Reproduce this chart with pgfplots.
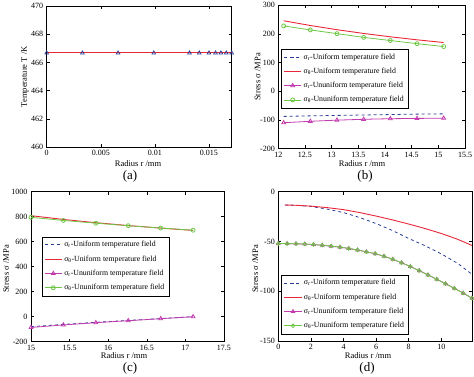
\documentclass[border=0pt]{standalone}
\usepackage{fontspec}
\setmainfont{Liberation Serif}
\usepackage{pgfplots}
\pgfplotsset{compat=1.18}
\definecolor{cred}{RGB}{232,40,56}
\definecolor{cblue}{RGB}{40,60,150}
\definecolor{cmag}{RGB}{195,60,175}
\definecolor{cgreen}{RGB}{110,200,70}
\pgfplotsset{
 every axis/.append style={
  scale only axis, anchor=south west,
  axis line style={line width=0.7pt},
  tick style={black, line width=0.5pt}, major tick length=3pt,
  ticklabel style={font=\fontsize{8}{9}\selectfont},
  /pgf/number format/assume math mode=true,
  /pgf/number format/1000 sep={},
  scaled ticks=false,
  legend cell align=left,
  legend style={font=\fontsize{7.8}{9}\selectfont, draw=black, row sep=3.3pt, inner sep=2.5pt},
 },
}
\tikzset{lab/.style={font=\fontsize{8.5}{10}\selectfont}, captxt/.style={font=\fontsize{13}{15}\selectfont}}
\begin{document}
\begin{tikzpicture}
\path[use as bounding box] (0,0) rectangle (474pt,377pt);
% (a)
\begin{axis}[at={(46.7pt,230pt)}, width=185pt, height=141pt,
  xmin=0, xmax=0.0171, ymin=460, ymax=470,
  xtick={0,0.005,0.01,0.015}, xticklabels={0,0.005,0.01,0.015},
  ytick={460,462,...,470}]
\addplot[only marks, mark=triangle, mark size=2.2pt, cblue, mark options={line width=0.6pt}] coordinates {
(0,466.67)(0.0033,466.67)(0.0066,466.67)(0.0099,466.67)(0.0132,466.67)(0.0141,466.67)(0.0150,466.67)(0.0156,466.67)(0.0161,466.67)(0.0166,466.67)(0.0171,466.67)};
\addplot[cred, line width=0.9pt] coordinates {(0,466.67)(0.0171,466.67)};
\end{axis}
% (b)
\begin{axis}[at={(278.3pt,228.5pt)}, width=186.7pt, height=143.2pt,
  xmin=12, xmax=15.5, ymin=-200, ymax=300,
  xtick={12,12.5,...,15.5}, ytick={-200,-100,...,300},
  legend style={at={(0.0145,0.696)}, anchor=north west}]
\addplot[cblue, dashed, line width=0.8pt] coordinates {(12.1,-88)(12.6,-86)(13.1,-84.5)(13.6,-83)(14.1,-81.5)(14.6,-80)(15.1,-79)};
\addplot[cred, line width=0.9pt] coordinates {(12.1,246)(12.6,229.5)(13.1,214.8)(13.6,201.7)(14.1,190)(14.6,179.5)(15.1,170)};
\addplot[cmag, line width=0.8pt, mark=triangle, mark size=2.2pt] coordinates {(12.1,-110)(12.6,-105)(13.1,-101)(13.6,-98)(14.1,-96)(14.6,-95)(15.1,-94)};
\addplot[cgreen, line width=0.8pt, mark=o, mark size=2pt] coordinates {(12.1,228)(12.6,214)(13.1,201)(13.6,188)(14.1,177)(14.6,166)(15.1,156)};
\legend{σ\textsubscript{r}-Uniform temperature field, σ\textsubscript{θ}-Uniform temperature field, σ\textsubscript{r}-Ununiform temperature field, σ\textsubscript{θ}-Ununiform temperature field}
\end{axis}
% (c)
\begin{axis}[at={(31pt,35.3pt)}, width=193pt, height=150pt,
  xmin=15, xmax=17.5, ymin=-200, ymax=1000,
  xtick={15,15.5,...,17.5}, ytick={-200,0,...,1000},
  legend style={at={(0.055,0.70)}, anchor=north west}]
\addplot[cblue, dashed, line width=0.8pt] coordinates {(15,-80)(15.42,-62)(15.84,-45)(16.26,-30)(16.68,-15)(17.1,0)};
\addplot[cred, line width=0.9pt] coordinates {(15,808)(15.42,778)(15.84,752)(16.26,729)(16.68,709)(17.1,690)};
\addplot[cmag, line width=0.8pt, mark=triangle, mark size=2.2pt] coordinates {(15,-86)(15.42,-66)(15.84,-48)(16.26,-32)(16.68,-16)(17.1,0)};
\addplot[cgreen, line width=0.8pt, mark=o, mark size=2pt] coordinates {(15,795)(15.42,770)(15.84,748)(16.26,728)(16.68,709)(17.1,692)};
\legend{σ\textsubscript{r}-Uniform temperature field, σ\textsubscript{θ}-Uniform temperature field, σ\textsubscript{r}-Ununiform temperature field, σ\textsubscript{θ}-Ununiform temperature field}
\end{axis}
% (d)
\begin{axis}[at={(278.3pt,36pt)}, width=193.7pt, height=149.3pt,
  xmin=0, xmax=11.88, ymin=-150, ymax=0,
  xtick={0,2,...,10}, ytick={-150,-100,...,0},
  legend style={at={(0.0155,0.047)}, anchor=south west}]
\addplot[cblue, dashed, line width=0.8pt] coordinates {(0.4,-13.4)(1,-13.6)(2,-14.8)(3,-17.5)(4,-21)(5,-26)(6,-32)(7,-39)(8,-47)(9,-54.3)(10,-62.5)(11,-72)(11.88,-83)};
\addplot[cred, line width=0.9pt] coordinates {(0.4,-13.4)(1,-13.6)(2,-14.5)(3,-16)(4,-18)(5,-21)(6,-24.5)(7,-28.3)(8,-32.5)(9,-37)(10,-42)(11,-47.8)(11.88,-54)};
\addplot[cmag, line width=0.8pt, mark=triangle, mark size=2pt] coordinates {
(0,-52)(0.54,-52.1)(1.08,-52.3)(1.62,-52.6)(2.16,-53.1)(2.70,-53.8)(3.24,-54.7)(3.78,-55.7)(4.32,-57)(4.86,-58.6)(5.40,-60.4)(5.94,-62.3)(6.48,-64.8)(7.02,-67.9)(7.56,-71.4)(8.10,-75.2)(8.64,-79.3)(9.18,-83.6)(9.72,-88)(10.26,-92.5)(10.80,-97.1)(11.34,-101.9)(11.88,-107)};
\addplot[cgreen, line width=0.8pt, mark=o, mark size=1.8pt] coordinates {
(0,-52)(0.54,-52.1)(1.08,-52.3)(1.62,-52.6)(2.16,-53.1)(2.70,-53.8)(3.24,-54.7)(3.78,-55.7)(4.32,-57)(4.86,-58.6)(5.40,-60.4)(5.94,-62.3)(6.48,-64.8)(7.02,-67.9)(7.56,-71.4)(8.10,-75.2)(8.64,-79.3)(9.18,-83.6)(9.72,-88)(10.26,-92.5)(10.80,-97.1)(11.34,-101.9)(11.88,-107)};
\legend{σ\textsubscript{r}-Uniform temperature field, σ\textsubscript{θ}-Uniform temperature field, σ\textsubscript{r}-Ununiform temperature field, σ\textsubscript{θ}-Ununiform temperature field}
\end{axis}
% labels
\node[lab, rotate=90] at (25pt,300.3pt) {Temperature T /K};
\node[lab] at (138pt,213.7pt) {Radius r /mm};
\node[captxt] at (130pt,200.3pt) {(a)};
\node[lab, rotate=90] at (257.7pt,300pt) {Stress σ /MPa};
\node[lab] at (362pt,213.5pt) {Radius r /mm};
\node[captxt] at (365pt,200.3pt) {(b)};
\node[lab, rotate=90] at (6pt,108pt) {Stress σ /MPa};
\node[lab] at (124pt,21pt) {Radius r /mm};
\node[captxt] at (130pt,9pt) {(c)};
\node[lab, rotate=90] at (255.3pt,108pt) {Stress σ /MPa};
\node[lab] at (368pt,21pt) {Radius r /mm};
\node[captxt] at (367pt,9pt) {(d)};
\end{tikzpicture}
\end{document}
